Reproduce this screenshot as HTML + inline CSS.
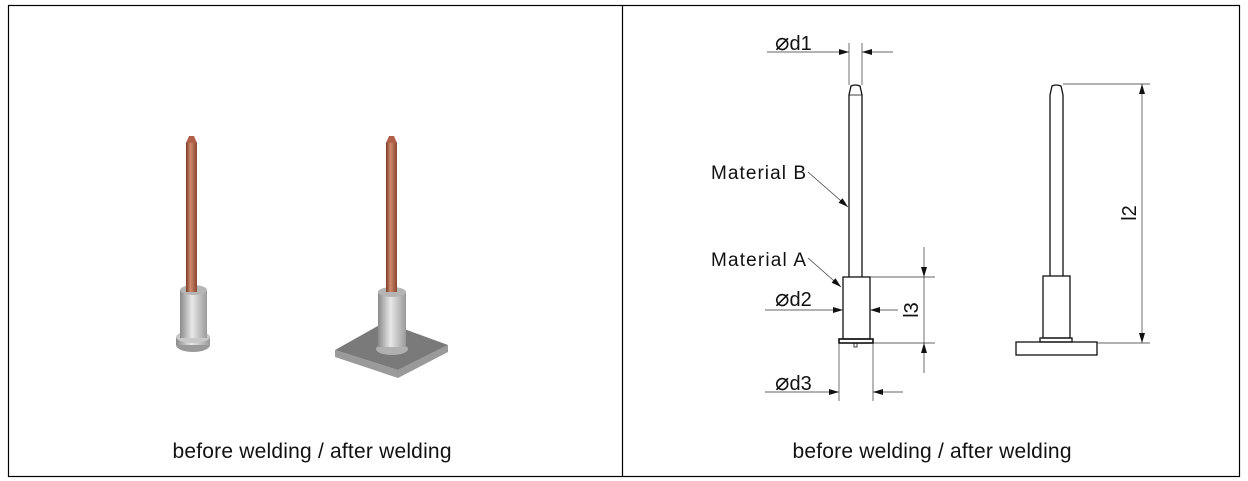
<!DOCTYPE html>
<html><head><style>
html,body{margin:0;padding:0;background:#fff;}
svg{display:block;}
text{font-family:"Liberation Sans",Arial,sans-serif;fill:#111;}
</style></head><body>
<svg width="1248" height="481" viewBox="0 0 1248 481" xmlns="http://www.w3.org/2000/svg">
<defs>
<linearGradient id="cu" x1="0" x2="1"><stop offset="0" stop-color="#7a3a28"/><stop offset="0.4" stop-color="#d08a6c"/><stop offset="1" stop-color="#8a4530"/></linearGradient>
<linearGradient id="al" x1="0" x2="1"><stop offset="0" stop-color="#8a8a8a"/><stop offset="0.45" stop-color="#e8e8e8"/><stop offset="1" stop-color="#9a9a9a"/></linearGradient>
<marker id="ar" viewBox="0 0 10 6" refX="10" refY="3" markerWidth="10" markerHeight="6" orient="auto-start-reverse" markerUnits="userSpaceOnUse"><path d="M0,0L10,3L0,6z" fill="#111"/></marker>
</defs>
<rect x="8.5" y="5.5" width="1231" height="471" fill="none" stroke="#000" stroke-width="1.2"/>
<line x1="622.5" y1="5" x2="622.5" y2="476" stroke="#000" stroke-width="1.2"/>
<text x="312" y="458" font-size="21" text-anchor="middle" textLength="279">before welding / after welding</text>
<text x="932" y="458" font-size="21" text-anchor="middle" textLength="279">before welding / after welding</text>

<!-- 3D left -->
<ellipse cx="193" cy="345" rx="17" ry="7" fill="#9a9a9a"/>
<rect x="176" y="337" width="34" height="8" fill="url(#al)"/>
<ellipse cx="193" cy="337" rx="17" ry="6" fill="#c8c8c8"/>
<rect x="180" y="290" width="27" height="48" fill="url(#al)"/>
<ellipse cx="193.5" cy="290" rx="13.5" ry="5" fill="#b5b5b5"/>
<rect x="186" y="142" width="11" height="150" fill="url(#cu)"/>
<path d="M186,143 L189,136 L194,136 L197,143z" fill="#b06048"/>

<!-- 3D right -->
<polygon points="335,350 398,370 448,345 448,352 398,378 335,357" fill="#9a9a9a"/>
<polygon points="335,350 385,322 448,345 398,370" fill="#7a7a7a"/>
<ellipse cx="392" cy="349" rx="16" ry="6" fill="#b0b0b0"/>
<rect x="378" y="292" width="28" height="55" fill="url(#al)"/>
<ellipse cx="392" cy="292" rx="14" ry="5" fill="#b5b5b5"/>
<rect x="386" y="142" width="11" height="150" fill="url(#cu)"/>
<path d="M386,143 L389,136 L394,136 L397,143z" fill="#b06048"/>

<!-- technical left -->
<g stroke="#111" fill="none" stroke-width="1.3">
<path d="M849,277 V95 L851,86 Q855,84 860,86 L862,95 V277"/>
<line x1="849" y1="95" x2="862" y2="95" stroke-width="0.8"/>
<rect x="843" y="277" width="27" height="62"/>
<rect x="839" y="339" width="34" height="4" stroke-width="1.6"/>
<rect x="854" y="343" width="3" height="4" stroke-width="0.8"/>
</g>
<g stroke="#333" stroke-width="0.7" fill="none">
<line x1="849" y1="43" x2="849" y2="85"/><line x1="862" y1="43" x2="862" y2="85"/>
<line x1="767" y1="52" x2="849" y2="52" marker-end="url(#ar)"/><line x1="893" y1="52" x2="862" y2="52" marker-end="url(#ar)"/>
<line x1="765" y1="310" x2="843" y2="310" marker-end="url(#ar)"/><line x1="898" y1="310" x2="870" y2="310" marker-end="url(#ar)"/>
<line x1="839" y1="343" x2="839" y2="401"/><line x1="873" y1="343" x2="873" y2="401"/>
<line x1="765" y1="392" x2="839" y2="392" marker-end="url(#ar)"/><line x1="903" y1="392" x2="873" y2="392" marker-end="url(#ar)"/>
<line x1="870" y1="277" x2="935" y2="277"/><line x1="873" y1="343" x2="935" y2="343"/>
<line x1="924" y1="247" x2="924" y2="277" marker-end="url(#ar)"/><line x1="924" y1="373" x2="924" y2="343" marker-end="url(#ar)"/>
<line x1="924" y1="277" x2="924" y2="343"/>
<line x1="808" y1="172" x2="848" y2="207" marker-end="url(#ar)"/>
<line x1="808" y1="258" x2="841" y2="287" marker-end="url(#ar)"/>
</g>
<text x="775" y="50" font-size="20"><tspan font-size="24">⌀</tspan>d1</text>
<text x="775" y="306" font-size="20"><tspan font-size="24">⌀</tspan>d2</text>
<text x="775" y="390" font-size="20"><tspan font-size="24">⌀</tspan>d3</text>
<text x="711" y="179" font-size="19" textLength="95">Material B</text>
<text x="711" y="266" font-size="19" textLength="95">Material A</text>
<text x="918" y="310" font-size="20" text-anchor="middle" transform="rotate(-90 918 310)">l3</text>

<!-- technical right -->
<g stroke="#111" fill="none" stroke-width="1.3">
<path d="M1050,276 V95 L1052,86 Q1056,84 1061,86 L1063,95 V276"/>
<rect x="1043" y="276" width="27" height="62"/>
<rect x="1040" y="338" width="32" height="4"/>
<rect x="1016" y="342" width="81" height="13"/>
</g>
<g stroke="#333" stroke-width="0.7" fill="none">
<line x1="1063" y1="84" x2="1150" y2="84"/><line x1="1097" y1="343" x2="1150" y2="343"/>
<line x1="1142" y1="200" x2="1142" y2="84" marker-end="url(#ar)"/><line x1="1142" y1="200" x2="1142" y2="343" marker-end="url(#ar)"/>
</g>
<text x="1136" y="213" font-size="20" text-anchor="middle" transform="rotate(-90 1136 213)">l2</text>
</svg>
</body></html>
